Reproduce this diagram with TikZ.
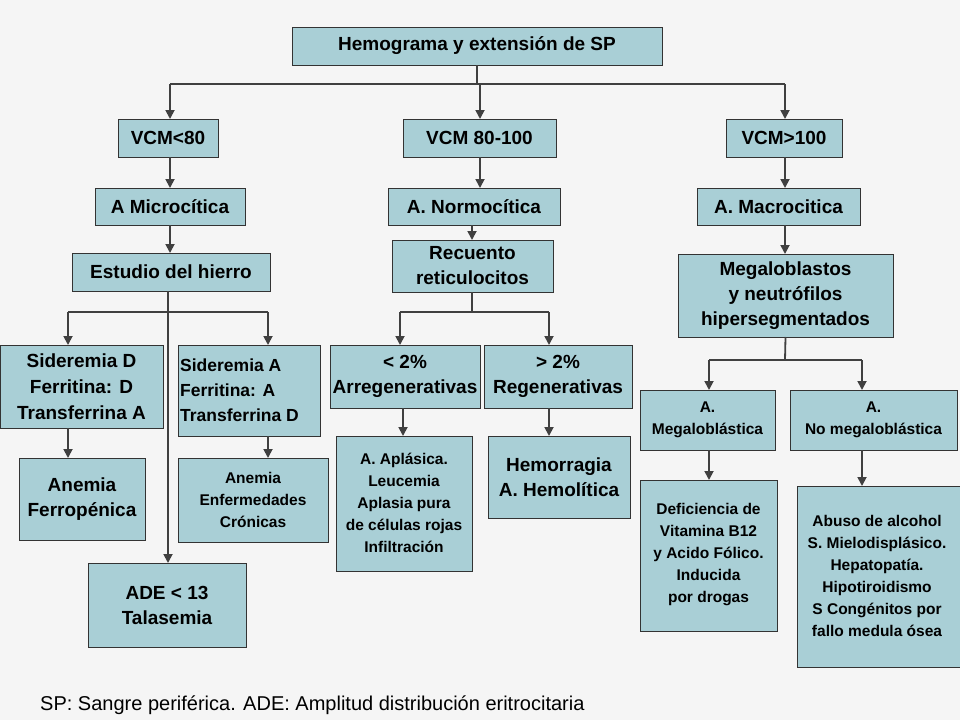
\documentclass[tikz,border=0pt]{standalone}
\usepackage{fontspec}
\setmainfont{Liberation Sans}
\usetikzlibrary{arrows.meta}
\definecolor{boxc}{HTML}{A9CFD6}
\tikzset{x=1pt,y=-1pt,
 bx/.style={draw=black!80,fill=boxc,line width=0.8pt},
 tx/.style={align=center,font=\bfseries\fontsize{19}{25}\selectfont,inner sep=0},
 sm/.style={align=center,font=\bfseries\fontsize{15.5}{22}\selectfont,inner sep=0},
 ar/.style={line width=1.8pt,draw=black!75,-{Triangle[length=9pt,width=9pt]}},
 ln/.style={line width=1.8pt,draw=black!75}}
\newcommand{\bxn}[6]{\draw[bx] (#2,#3) rectangle (#4,#5);
 \node[tx] (#1) at ({(#2+#4)/2},{(#3+#5)/2}) {#6};
 \coordinate (#1t) at ({(#2+#4)/2},#3); \coordinate (#1b) at ({(#2+#4)/2},#5);}
\begin{document}
\begin{tikzpicture}
\fill[white!96!black] (0,0) rectangle (960,720);
\useasboundingbox (0,0) rectangle (960,720);
\bxn{top}{292}{27}{662}{65}{Hemograma y extensión de SP}
\bxn{v1}{118}{119}{218}{157}{VCM<80}
\bxn{v2}{403}{119}{556}{157}{VCM 80-100}
\bxn{v3}{726}{119}{842}{157}{VCM>100}
\bxn{a1}{95}{188}{245}{225}{A Microcítica}
\bxn{a2}{388}{188}{560}{225}{A. Normocítica}
\bxn{a3}{697}{188}{860}{225}{A. Macrocitica}
\bxn{h}{72}{253}{270}{291}{Estudio del hierro}
\bxn{r}{392}{240}{553}{292}{Recuento\\reticulocitos}
\bxn{m}{678}{254}{893}{337}{Megaloblastos\\y neutrófilos\\hipersegmentados}
\draw[bx] (0,345) rectangle (163,428);
\node[tx,font=\bfseries\fontsize{19}{26}\selectfont] (sd) at (81.5,386.5) {Sideremia D\\Ferritina: D\\Transferrina A};
\draw[bx] (178,345) rectangle (320,436);
\node[tx,align=left,anchor=west,font=\bfseries\fontsize{17.5}{25}\selectfont] (sa) at (180,390) {Sideremia A\\Ferritina: A\\Transferrina D};
\coordinate (sab) at (268,436);
\bxn{lt}{330}{345}{480}{408}{< 2\%\\Arregenerativas}
\bxn{gt}{484}{345}{632}{408}{> 2\%\\Regenerativas}
\draw[bx] (640,390) rectangle (775,450); \node[sm] (mg) at (707.5,420) {A.\\Megaloblástica};
\draw[bx] (790,390) rectangle (957,450); \node[sm] (nm) at (873.5,420) {A.\\No megaloblástica};
\bxn{af}{19}{458}{145}{540}{Anemia\\Ferropénica}
\draw[bx] (178,458) rectangle (328,542); \node[sm] (ae) at (253,500) {Anemia\\Enfermedades\\Crónicas};
\draw[bx] (336,436) rectangle (472,571); \node[sm] (ap) at (404,503) {A. Aplásica.\\Leucemia\\Aplasia pura\\de células rojas\\Infiltración};
\bxn{hm}{488}{436}{630}{518}{Hemorragia\\A. Hemolítica}
\draw[bx] (640,480) rectangle (777,631); \node[sm] (df) at (708.5,555) {Deficiencia de\\Vitamina B12\\y Acido Fólico.\\Inducida\\por drogas};
\draw[bx] (797,486) rectangle (960,667); \node[sm] (ab) at (877,576) {Abuso de alcohol\\S. Mielodisplásico.\\Hepatopatía.\\Hipotiroidismo\\S Congénitos por\\fallo medula ósea};
\bxn{ad}{88}{563}{246}{647}{ADE < 13\\Talasemia}
% connectors
\draw[ln] (topb) -- (477,84); \draw[ln] (170,84) -- (785,84);
\draw[ar] (170,84) -- (170,119); \draw[ar] (480,84) -- (480,119); \draw[ar] (785,84) -- (785,119);
\draw[ar] (170,157) -- (170,188); \draw[ar] (480,157) -- (480,188); \draw[ar] (785,157) -- (785,188);
\draw[ar] (170,225) -- (170,253); \draw[ar] (472,225) -- (472,240); \draw[ar] (785,225) -- (785,254);
\draw[ln] (68,312) -- (268,312); \draw[ln] (168,291) -- (168,312);
\draw[ar] (68,312) -- (68,345); \draw[ar] (268,312) -- (268,345);
\draw[ar] (168,312) -- (168,563);
\draw[ln] (400,312) -- (549,312); \draw[ln] (472,292) -- (472,312);
\draw[ar] (400,312) -- (400,345); \draw[ar] (549,312) -- (549,345);
\draw[ln] (mb) -- (785,360); \draw[ln] (709,360) -- (862,360);
\draw[ar] (709,360) -- (709,390); \draw[ar] (862,360) -- (862,390);
\draw[ar] (68,428) -- (68,458); \draw[ar] (sab) -- (268,458);
\draw[ar] (403,408) -- (403,436); \draw[ar] (549,408) -- (549,436);
\draw[ar] (709,450) -- (709,480); \draw[ar] (862,450) -- (862,486);
\node[anchor=west,font=\fontsize{20}{22}\selectfont,inner sep=0] (ft) at (40,705) {SP: Sangre periférica. ADE: Amplitud distribución eritrocitaria};
\end{tikzpicture}
\end{document}
